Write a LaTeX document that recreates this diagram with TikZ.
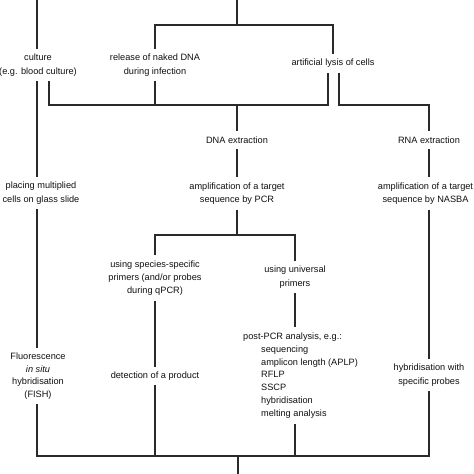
\documentclass[tikz,border=0pt]{standalone}
\usepackage{fontspec}
\setmainfont{Liberation Sans}
\definecolor{ink}{HTML}{111111}
\definecolor{wire}{HTML}{2A2A2A}
\begin{document}
\begin{tikzpicture}[x=1pt,y=-1pt,
  lbl/.style={align=center,inner xsep=1pt,inner ysep=5pt,text=ink,
    font=\fontsize{9.2}{13.3}\selectfont},
  listlbl/.style={align=left,inner xsep=0pt,inner ysep=6pt,text=ink,
    font=\fontsize{9.2}{12.7}\selectfont},
  wirestyle/.style={draw=wire,line width=1.3pt}]
\useasboundingbox (0,0) rectangle (474,474);
\fill[white] (0,0) rectangle (474,474);

% text nodes
\node[lbl] (culture)   at (38,65)    {culture\\(e.g. blood culture)};
\node[lbl] (release)   at (155,65)   {release of naked DNA\\during infection};
\node[lbl] (lysis)     at (333,63.5) {artificial lysis of cells};
\node[lbl] (dna)       at (237,140)  {DNA extraction};
\node[lbl] (rna)       at (429,140)  {RNA extraction};
\node[lbl] (placing)   at (41,193)   {placing multiplied\\cells on glass slide};
\node[lbl] (amppcr)    at (237,193.5){amplification of a target\\sequence by PCR};
\node[lbl] (ampnasba)  at (425.5,193.5){amplification of a target\\sequence by NASBA};
\node[lbl] (species)   at (155,278)  {using species-specific\\primers (and/or probes\\during qPCR)};
\node[lbl] (universal) at (295,277)  {using universal\\primers};
\node[listlbl,anchor=north west] (postpcr) at (243,327)
  {post-PCR analysis, e.g.:\\
   \hspace*{18pt}sequencing\\
   \hspace*{18pt}amplicon length (APLP)\\
   \hspace*{18pt}RFLP\\
   \hspace*{18pt}SSCP\\
   \hspace*{18pt}hybridisation\\
   \hspace*{18pt}melting analysis};
\node[lbl] (hyb)       at (429,375)  {hybridisation with\\specific probes};
\node[lbl,font=\fontsize{9.2}{12.5}\selectfont] (fish) at (38,376)
  {Fluorescence\\\textit{in situ}\\hybridisation\\(FISH)};
\node[lbl] (detection) at (155,376)  {detection of a product};

% junction coordinates
\coordinate (topL) at (37,0);
\coordinate (topC) at (237,0);
\coordinate (jTop) at (237,25);
\coordinate (cR)   at (49,0);
\coordinate (lysL) at (328,0);
\coordinate (lysR) at (339,0);
\coordinate (jMid) at (237,105);
\coordinate (jR)   at (429,105);
\coordinate (jPCR) at (237,235);
\coordinate (uX)   at (295,0);
\coordinate (nX)   at (429,0);
\coordinate (jBot) at (238,456);
\coordinate (botC) at (238,474);

% connectors
\draw[wirestyle] (topL) -- (topL |- culture.north);
\draw[wirestyle] (topC) -- (jTop);
\draw[wirestyle] (release.north) |- (jTop) -| (lysis.north);
\draw[wirestyle] (culture.south -| cR) |- (jMid) -| (lysis.south -| lysL);
\draw[wirestyle] (release.south) -- (release.south |- jMid);
\draw[wirestyle] (jMid) -- (dna.north);
\draw[wirestyle] (lysis.south -| lysR) |- (jR) -- (rna.north);
\draw[wirestyle] (culture.south -| topL) -- (placing.north -| topL);
\draw[wirestyle] (placing.south -| topL) -- (fish.north -| topL);
\draw[wirestyle] (fish.south -| topL) |- (jBot) -| (hyb.south);
\draw[wirestyle] (jBot) -- (botC);
\draw[wirestyle] (dna.south) -- (amppcr.north);
\draw[wirestyle] (amppcr.south) -- (jPCR);
\draw[wirestyle] (species.north) |- (jPCR) -| (universal.north);
\draw[wirestyle] (species.south) -- (detection.north);
\draw[wirestyle] (detection.south) -- (detection.south |- jBot);
\draw[wirestyle] (universal.south) -- (postpcr.north -| uX);
\draw[wirestyle] (postpcr.south -| uX) -- (uX |- jBot);
\draw[wirestyle] (rna.south) -- (ampnasba.north -| nX);
\draw[wirestyle] (ampnasba.south -| nX) -- (hyb.north);
\end{tikzpicture}
\end{document}
